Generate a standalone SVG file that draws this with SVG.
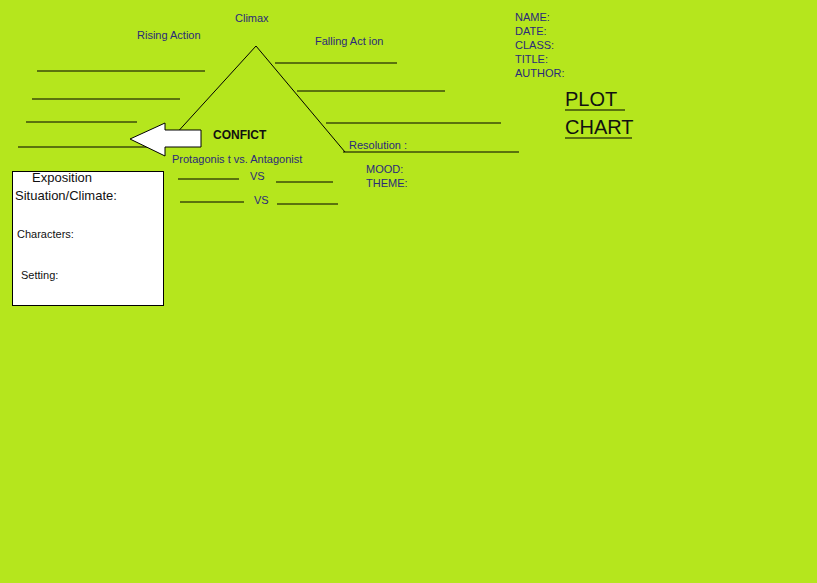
<svg xmlns="http://www.w3.org/2000/svg" width="817" height="583" viewBox="0 0 817 583">
<style>
.t{font-family:"Liberation Sans","DejaVu Sans",sans-serif;font-size:11px;fill:#2a2a7a}
.k{font-family:"Liberation Sans",sans-serif;fill:#111}
.l{stroke:#000;stroke-width:1;fill:none}
</style>
<rect width="817" height="583" fill="#b5e61d"/>
<g id="connectors">
<path class="l" d="M256,46 L163,148 M256,46 L345,152"/>
<path class="l" d="M37,71H205M32,99H180M26,122H137M18,147H155"/>
<path class="l" d="M275,63H397M297,91H445M326,123H501M343,152H519"/>
<path class="l" d="M178,179H239M276,182H333M180,202H244M277,204H338"/>
<path class="l" d="M565,110H625M565,138H632"/>
</g>
<g id="arrow"><polygon points="130,139 165,123 165,130 201,130 201,147 165,147 165,156" fill="#fff" stroke="#000"/></g>
<g id="box"><rect x="12.5" y="171.5" width="151" height="134" fill="#fff" stroke="#000"/>
<text class="k" x="32" y="182" font-size="13">Exposition</text>
<text class="k" x="15" y="200" font-size="13">Situation/Climate:</text>
<text class="k" x="17" y="238" font-size="11">Characters:</text>
<text class="k" x="21" y="279" font-size="11">Setting:</text></g>
<g id="labels">
<text class="t" x="235" y="22">Climax</text>
<text class="t" x="137" y="39">Rising Action</text>
<text class="t" x="315" y="45">Falling Act ion</text>
<text class="k" x="213" y="139" font-size="12" font-weight="bold">CONFICT</text>
<text class="t" x="172" y="163">Protagonis t vs.  Antagonist</text>
<text class="t" x="250" y="180">VS</text>
<text class="t" x="254" y="204">VS</text>
<text class="t" x="349" y="149">Resolution :</text>
<text class="t" x="366" y="173">MOOD:</text>
<text class="t" x="366" y="187">THEME:</text>
<text class="t" x="515" y="21">NAME:</text>
<text class="t" x="515" y="35">DATE:</text>
<text class="t" x="515" y="49">CLASS:</text>
<text class="t" x="515" y="63">TITLE:</text>
<text class="t" x="515" y="77">AUTHOR:</text>
<text class="k" x="565" y="106" font-size="20">PLOT</text>
<text class="k" x="565" y="134" font-size="20">CHART</text>
</g>
</svg>
